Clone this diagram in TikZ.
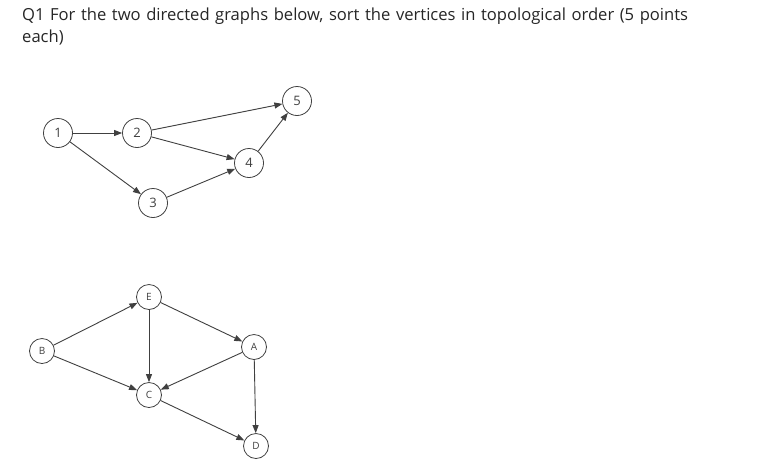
\documentclass[tikz,border=0pt]{standalone}
\usepackage{fontspec}
\setmainfont{Open Sans}
\usetikzlibrary{arrows.meta}
\begin{document}
\begin{tikzpicture}[x=1pt,y=-1pt,
  vtx/.style={circle,draw=black!75,line width=0.8pt,minimum size=29pt,inner sep=0pt,font=\fontsize{13}{15}\selectfont\color{black!75}},
  vtxs/.style={vtx,minimum size=25pt,font=\fontsize{10}{12}\selectfont\color{black!75}},
  arr/.style={-{Triangle[length=8pt,width=6pt]},draw=black!75,line width=0.9pt}]
\useasboundingbox[fill=white] (0,0) rectangle (770,467);
\node[anchor=north west,align=left,text width=740pt,font=\fontsize{16.6}{22}\selectfont\color{black!85},inner sep=0pt] (q) at (22,8) {Q1 For the two directed graphs below, sort the vertices in topological order (5 points\\each)};
\node[vtx] (n1) at (58,133) {1};
\node[vtx] (n2) at (137,133) {2};
\node[vtx] (n3) at (153,203) {3};
\node[vtx] (n4) at (249,163) {4};
\node[vtx] (n5) at (297,101) {5};
\draw[arr] (n1)--(n2);
\draw[arr] (n1)--(n3);
\draw[arr] (n2)--(n5);
\draw[arr] (n2)--(n4);
\draw[arr] (n3)--(n4);
\draw[arr] (n4)--(n5);
\node[vtxs] (E) at (149,297) {E};
\node[vtxs] (B) at (42,351) {B};
\node[vtxs] (A) at (254,347) {A};
\node[vtxs] (C) at (149,395) {C};
\node[vtxs] (D) at (256,446) {D};
\draw[arr] (B)--(E);
\draw[arr] (B)--(C);
\draw[arr] (E)--(C);
\draw[arr] (E)--(A);
\draw[arr] (A)--(C);
\draw[arr] (A)--(D);
\draw[arr] (C)--(D);
\end{tikzpicture}
\end{document}
